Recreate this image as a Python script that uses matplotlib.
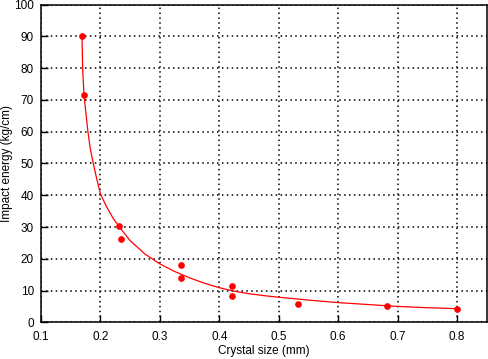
import matplotlib
matplotlib.use("Agg")
import matplotlib.pyplot as plt

# Measured data points
crystal_size = [0.169, 0.1723, 0.2311, 0.234, 0.3348, 0.3348, 0.4216, 0.4216, 0.533, 0.682, 0.800]
impact_energy = [90.0, 71.6, 30.3, 26.2, 18.1, 13.8, 11.3, 8.3, 5.8, 5.2, 4.3]

# Fitted curve, values
fit_x = [0.169, 0.1701, 0.1723, 0.1755, 0.179, 0.183, 0.188, 0.194, 0.2003, 0.21, 0.2215,
         0.2311, 0.25, 0.275, 0.3, 0.325, 0.35, 0.375, 0.4, 0.425, 0.45, 0.475, 0.5,
         0.55, 0.6, 0.65, 0.7, 0.75, 0.8]
fit_y = [90.0, 80.0, 71.6, 66.0, 60.0, 54.6, 50.0, 45.0, 40.3, 36.5, 32.7,
         30.2, 25.7, 21.5, 18.4, 16.0, 14.0, 12.3, 10.9, 9.8, 9.0, 8.4, 7.9,
         7.0, 6.2, 5.6, 5.0, 4.6, 4.3]

x_ticks = [0.1, 0.2, 0.3, 0.4, 0.5, 0.6, 0.7, 0.8]
y_ticks = [0, 10, 20, 30, 40, 50, 60, 70, 80, 90, 100]

plt.rcParams['font.family'] = ['Liberation Sans', 'DejaVu Sans']

fig = plt.figure(figsize=(4.88, 3.59), dpi=100)
ax = fig.add_axes([0.084, 0.1022, 0.9133, 0.8848])

ax.plot(fit_x, fit_y, color='#ff0000', linewidth=0.9, zorder=3)
ax.plot(crystal_size, impact_energy, linestyle='none', marker='o', markersize=3.8,
        markerfacecolor='#ff0000', markeredgecolor='#ff0000', zorder=4)

ax.set_xlim(0.1, 0.85)
ax.set_ylim(0, 100)
ax.set_xticks(x_ticks)
ax.set_yticks(y_ticks)
ax.set_xticklabels([f"{t:g}" for t in x_ticks])
ax.set_yticklabels([str(t) for t in y_ticks])

ax.grid(True, color='black', linestyle=(0, (1, 2.2)), linewidth=1.1, zorder=1)
ax.set_axisbelow(True)
ax.tick_params(direction='in', length=5, width=1.0, labelsize=8.5, pad=5,
               top=False, right=False)
ax.tick_params(axis='x', pad=6)
for s in ax.spines.values():
    s.set_linewidth(1.1)

ax.set_xlabel('Crystal size (mm)', fontsize=8.5, labelpad=2)
ax.set_ylabel('Impact energy (kg/cm)', fontsize=8.5, labelpad=1)

fig.savefig('out.png', dpi=100)
